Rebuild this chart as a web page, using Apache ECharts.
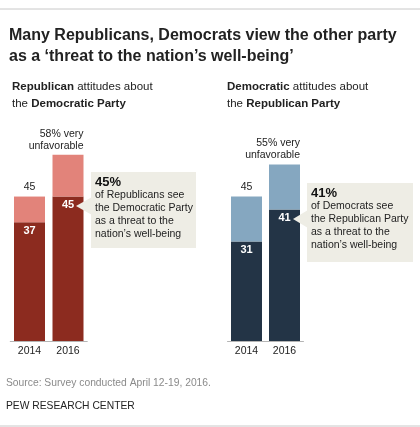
<!DOCTYPE html>
<html>
<head>
<meta charset="utf-8">
<script src="https://cdn.jsdelivr.net/npm/echarts@6/dist/echarts.min.js"></script>
<style>
  html, body { margin: 0; padding: 0; background: #fff; }
  #chart { width: 420px; height: 427px; }
</style>
</head>
<body>
<div id="chart"></div>
<script>
const years = ['2014', '2016']
// Republicans about the Democratic Party
const repThreat = [37, 45]
const repUnfav = [45, 58]
// Democrats about the Republican Party
const demThreat = [31, 41]
const demUnfav = [45, 55]

const font = "'Liberation Sans', Arial, sans-serif"
const repDark = '#8c2b1f'
const repLight = '#e2837a'
const demDark = '#233446'
const demLight = '#85a7c0'
const boxColor = '#eeede5'

const chart = echarts.init(document.getElementById('chart'))

const topLabel = (unfav) => (p) =>
  p.dataIndex === unfav.length - 1 ? unfav[p.dataIndex] + '% very\nunfavorable' : String(unfav[p.dataIndex])

const makeSeries = (gridIdx, threat, unfav, dark, light) => [
  {
    type: 'bar',
    stack: 's' + gridIdx,
    xAxisIndex: gridIdx,
    yAxisIndex: gridIdx,
    barWidth: 31,
    itemStyle: { color: dark },
    label: {
      show: true,
      position: 'insideTop',
      distance: 3,
      color: '#fff',
      fontWeight: 'bold',
      fontSize: 11,
      fontFamily: font
    },
    data: threat
  },
  {
    type: 'bar',
    stack: 's' + gridIdx,
    xAxisIndex: gridIdx,
    yAxisIndex: gridIdx,
    barWidth: 31,
    itemStyle: { color: light },
    label: {
      show: true,
      position: 'top',
      distance: 3,
      color: '#222',
      fontSize: 10.5,
      lineHeight: 12,
      fontFamily: font,
      formatter: topLabel(unfav)
    },
    data: unfav.map((v, i) =>
      i === unfav.length - 1
        ? { value: v - threat[i], label: { align: 'right', offset: [15.5, 0] } }
        : v - threat[i]
    )
  }
]

const axisX = (gridIndex) => ({
  type: 'category',
  gridIndex,
  data: years,
  axisLine: { lineStyle: { color: '#b5b5b5', width: 1 } },
  axisTick: { show: false },
  axisLabel: { color: '#222', fontSize: 10.5, fontFamily: font, margin: 5 }
})

const axisY = (gridIndex) => ({
  type: 'value', gridIndex, min: 0, max: 60, show: false
})

const callout = (x, y, w, h, tip, head, body) => ({
  type: 'group',
  z: 100,
  children: [
    { type: 'rect', z: 100, shape: { x, y, width: w, height: h }, style: { fill: boxColor } },
    { type: 'polygon', z: 100, shape: { points: [[tip[0], tip[1]], [x + 1, tip[1] - 9], [x + 1, tip[1] + 9]] }, style: { fill: boxColor } },
    { type: 'text', z: 101, x: x + 4, y: y + 4, style: { text: head, font: 'bold 13px ' + font, fill: '#111' } },
    { type: 'text', z: 101, x: x + 4, y: y + 17, style: { text: body, font: '10.5px ' + font, lineHeight: 13, fill: '#222' } }
  ]
})

const subStyle = {
  fontSize: 11.5, fontWeight: 'normal', color: '#222', lineHeight: 16.5, fontFamily: font,
  rich: { b: { fontWeight: 'bold', fontSize: 11.5, lineHeight: 16.5, fontFamily: font, color: '#222' } }
}

chart.setOption({
  animation: false,
  textStyle: { fontFamily: font },
  title: [
    {
      text: "Many Republicans, Democrats view the other party\nas a \u2018threat to the nation\u2019s well-being\u2019",
      left: 4, top: 20,
      textStyle: { fontSize: 16, fontWeight: 'bold', color: '#222', lineHeight: 21, fontFamily: font }
    },
    {
      text: '{b|Republican} attitudes about\nthe {b|Democratic Party}',
      left: 7, top: 74,
      textStyle: subStyle
    },
    {
      text: '{b|Democratic} attitudes about\nthe {b|Republican Party}',
      left: 222, top: 74,
      textStyle: subStyle
    },
    {
      text: 'Source: Survey conducted April 12-19, 2016.',
      left: 1, top: 373,
      textStyle: { fontSize: 10.3, color: '#8a8a8a', fontWeight: 'normal', fontFamily: font }
    },
    {
      text: 'PEW RESEARCH CENTER',
      left: 1, top: 396,
      textStyle: { fontSize: 10.3, color: '#222', fontWeight: 'normal', fontFamily: font }
    }
  ],
  grid: [
    { left: 10.25, width: 77, top: 148.4, height: 192.6 },
    { left: 227.5, width: 76, top: 148.4, height: 192.6 }
  ],
  xAxis: [axisX(0), axisX(1)],
  yAxis: [axisY(0), axisY(1)],
  series: [
    ...makeSeries(0, repThreat, repUnfav, repDark, repLight),
    ...makeSeries(1, demThreat, demUnfav, demDark, demLight)
  ],
  graphic: [
    { type: 'line', shape: { x1: 0, y1: 9, x2: 420, y2: 9 }, style: { stroke: '#c8c8c8', lineWidth: 1 } },
    { type: 'line', shape: { x1: 0, y1: 426, x2: 420, y2: 426 }, style: { stroke: '#c8c8c8', lineWidth: 1 } },
    callout(91, 172, 105, 76, [76, 206],
      repThreat[1] + '%',
      'of Republicans see\nthe Democratic Party\nas a threat to the\nnation\u2019s well-being'),
    callout(307, 183, 106, 79, [293, 219],
      demThreat[1] + '%',
      'of Democrats see\nthe Republican Party\nas a threat to the\nnation\u2019s well-being')
  ]
})
</script>
</body>
</html>
